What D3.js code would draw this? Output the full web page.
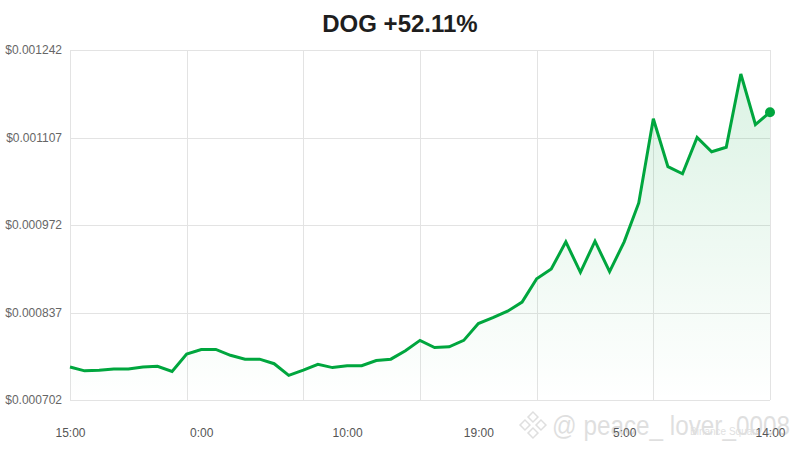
<!DOCTYPE html>
<html>
  <head>
    <script src="https://d3js.org/d3.v7.min.js"></script>
    <style>
      html, body {
        margin: 0;
        padding: 0;
        overflow: hidden;
        background: #fff;
      }
      .grid line {
        stroke: #e3e3e3;
        stroke-width: 1px;
      }
      .axis text {
        font: 12px "Liberation Sans", Arial, sans-serif;
        fill: #666;
      }
    </style>
  </head>
  <body>
    <div id="chart"></div>
    <script>
      // price samples, one per step (49 points)
      const prices = [
        0.000753, 0.000747, 0.000748, 0.000750, 0.000750, 0.000753, 0.000754, 0.000746,
        0.000773, 0.000780, 0.000780, 0.000771, 0.000765, 0.000765, 0.000758, 0.000740,
        0.000748, 0.000757, 0.000752, 0.000755, 0.000755, 0.000763, 0.000765, 0.000778,
        0.000794, 0.000783, 0.000784, 0.000794, 0.000820, 0.000829, 0.000839, 0.000853,
        0.000889, 0.000904, 0.000946, 0.000899, 0.000947, 0.000900, 0.000946, 0.001006,
        0.001136, 0.001062, 0.001051, 0.001107, 0.001085, 0.001092, 0.001205, 0.001127,
        0.001146
      ];
      const yTicks = [0.000702, 0.000837, 0.000972, 0.001107, 0.001242];
      const xLabelIdx = [0, 9, 19, 28, 38, 48];
      const xLabels = ["15:00", "0:00", "10:00", "19:00", "5:00", "14:00"];
      const xGridIdx = [0, 8, 16, 24, 32, 40, 48];
      const title = "DOG +52.11%";

      const width = 800;
      const height = 450;
      const margin = { top: 50, right: 30, bottom: 50, left: 70 };

      const svg = d3.select("#chart")
        .append("svg")
        .attr("width", width)
        .attr("height", height);

      const x = d3.scaleLinear()
        .domain([0, prices.length - 1])
        .range([margin.left, width - margin.right]);

      const y = d3.scaleLinear()
        .domain([yTicks[0], yTicks[yTicks.length - 1]])
        .range([height - margin.bottom, margin.top]);

      // gradient under the line
      const defs = svg.append("defs");
      const grad = defs.append("linearGradient")
        .attr("id", "fill")
        .attr("x1", 0).attr("y1", 0)
        .attr("x2", 0).attr("y2", 1);
      grad.append("stop").attr("offset", "0%").attr("stop-color", "#00a63e").attr("stop-opacity", 0.14);
      grad.append("stop").attr("offset", "100%").attr("stop-color", "#00a63e").attr("stop-opacity", 0.0);

      // grid
      const grid = svg.append("g").attr("class", "grid");
      grid.selectAll(".h")
        .data(yTicks)
        .enter()
        .append("line")
        .attr("x1", margin.left)
        .attr("x2", width - margin.right)
        .attr("y1", d => Math.round(y(d)) + 0.5)
        .attr("y2", d => Math.round(y(d)) + 0.5);
      grid.selectAll(".v")
        .data(xGridIdx)
        .enter()
        .append("line")
        .attr("x1", d => Math.round(x(d)) + 0.5)
        .attr("x2", d => Math.round(x(d)) + 0.5)
        .attr("y1", margin.top)
        .attr("y2", height - margin.bottom);

      // area + line
      const area = d3.area()
        .x((d, i) => x(i))
        .y0(y(yTicks[0]))
        .y1(d => y(d));

      const line = d3.line()
        .x((d, i) => x(i))
        .y(d => y(d));

      svg.append("path")
        .datum(prices)
        .attr("d", area)
        .attr("fill", "url(#fill)");

      svg.append("path")
        .datum(prices)
        .attr("d", line)
        .attr("fill", "none")
        .attr("stroke", "#00a63e")
        .attr("stroke-width", 3)
        .attr("stroke-linejoin", "miter");

      svg.append("circle")
        .attr("cx", x(prices.length - 1))
        .attr("cy", y(prices[prices.length - 1]))
        .attr("r", 5)
        .attr("fill", "#00a63e");

      // y axis labels
      const yAxis = d3.axisLeft(y)
        .tickValues(yTicks)
        .tickSize(0)
        .tickPadding(8)
        .tickFormat(d => "$" + d.toFixed(6));
      svg.append("g")
        .attr("class", "axis")
        .attr("transform", `translate(${margin.left},0)`)
        .call(yAxis)
        .call(g => g.select(".domain").remove());

      // x axis labels
      const xAxis = d3.axisBottom(x)
        .tickValues(xLabelIdx)
        .tickSize(0)
        .tickPadding(28)
        .tickFormat((d, i) => xLabels[i]);
      svg.append("g")
        .attr("class", "axis")
        .attr("transform", `translate(0,${height - margin.bottom})`)
        .call(xAxis)
        .call(g => g.select(".domain").remove())
        .selectAll("text")
        .style("fill", "#555");

      // title
      svg.append("text")
        .attr("x", width / 2)
        .attr("y", 32)
        .attr("text-anchor", "middle")
        .style("font", "bold 24px 'Liberation Sans', Arial, sans-serif")
        .style("fill", "#1e1e1e")
        .text(title);

      // watermark
      const wm = svg.append("g").attr("opacity", 0.3);
      const logo = wm.append("g").attr("transform", "translate(533,425)");
      [[0, -8], [-8, 0], [8, 0], [0, 8]].forEach(([dx, dy]) => {
        logo.append("rect")
          .attr("x", dx - 3.5).attr("y", dy - 3.5)
          .attr("width", 7).attr("height", 7)
          .attr("transform", `rotate(45 ${dx} ${dy})`)
          .attr("fill", "none")
          .attr("stroke", "#999")
          .attr("stroke-width", 1.5);
      });
      wm.append("text")
        .attr("x", 552)
        .attr("y", 435)
        .attr("textLength", 238)
        .attr("lengthAdjust", "spacingAndGlyphs")
        .style("font", "27px 'Liberation Sans', Arial, sans-serif")
        .style("fill", "#999")
        .text("@ peace_ lover_0008");
      wm.append("text")
        .attr("x", 690)
        .attr("y", 435)
        .style("font", "10px 'Liberation Sans', Arial, sans-serif")
        .style("fill", "#999")
        .text("Binance Square");
    </script>
  </body>
</html>
